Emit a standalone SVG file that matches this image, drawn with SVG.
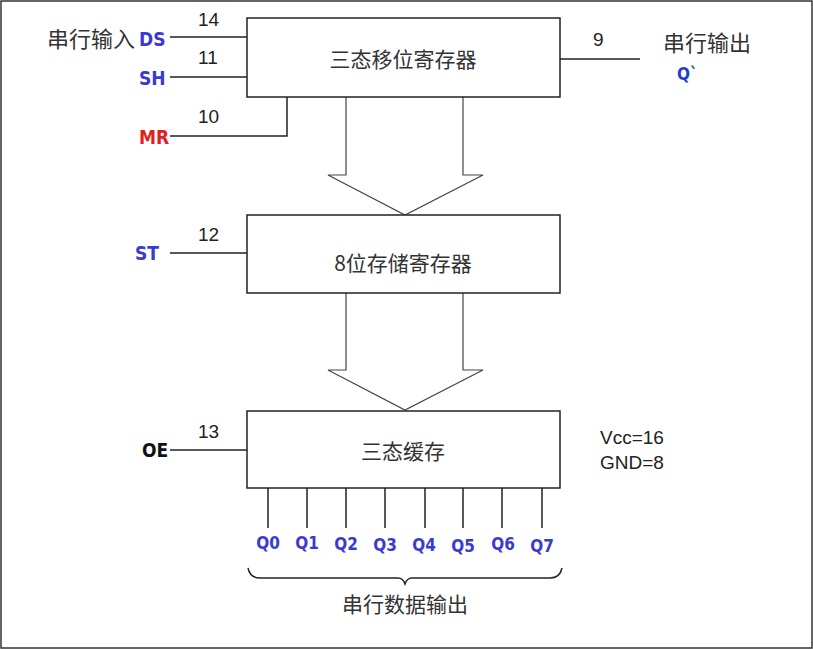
<svg xmlns="http://www.w3.org/2000/svg" width="813" height="649" viewBox="0 0 813 649">
<style>
.b{fill:#fff;stroke:#222;stroke-width:1.5}
.l{stroke:#222;stroke-width:1.5;fill:none}
.a{fill:#fff;stroke:#444;stroke-width:1.2}
.n{font-family:"Liberation Sans",Arial,sans-serif;font-size:19px;fill:#222}
.c{font-family:"Noto Sans CJK SC",sans-serif;font-size:21px;fill:#333}
.m{font-family:"DejaVu Sans Condensed","DejaVu Sans",sans-serif;font-weight:bold;font-size:19px;fill:#3a3ad0}
</style>
<rect width="813" height="649" fill="#fff"/>
<rect x="1" y="1" width="811" height="647" fill="none" stroke="#333" stroke-width="1.5"/>
<g id="connectors">
<path class="l" d="M170 37H247M170 77H247M170 136H287V97M170 253H247M170 450H247M560 59H640"/>
<path class="l" d="M268 488V528M307 488V528M346 488V528M385 488V528M425 488V528M463 488V528M502 488V528M542 488V528"/>
<path class="l" stroke-width="1.2" d="M248 568Q250 578 260 578H398Q403 578 405 584Q407 578 412 578H550Q560 578 562 568"/>
<path class="a" d="M346 97V175H328L405 215L483 175H463V97"/>
<path class="a" d="M346 293V370H328L405 410L483 370H463V293"/>
</g>
<g id="shift"><rect class="b" x="247" y="18" width="313" height="79"/><text class="c" x="403" y="67" text-anchor="middle">三态移位寄存器</text></g>
<g id="storage"><rect class="b" x="247" y="215" width="313" height="78"/><text class="c" x="403" y="271" text-anchor="middle">8位存储寄存器</text></g>
<g id="buffer"><rect class="b" x="247" y="411" width="313" height="77"/><text class="c" x="403" y="459" text-anchor="middle">三态缓存</text></g>
<g id="labels">
<text class="c" x="47" y="47" style="font-size:22px">串行输入</text><text class="m" x="139" y="46">DS</text>
<text class="m" x="139" y="85">SH</text>
<text class="m" x="139" y="144" style="fill:#e02020">MR</text>
<text class="m" x="135" y="260">ST</text>
<text class="m" x="142" y="457" style="fill:#111">OE</text>
<text class="n" x="198" y="26">14</text><text class="n" x="198" y="64">11</text><text class="n" x="198" y="123">10</text>
<text class="n" x="198" y="241">12</text><text class="n" x="198" y="438">13</text><text class="n" x="593" y="46">9</text>
<text class="c" x="663" y="51" style="font-size:22px">串行输出</text><text class="m" x="677" y="80" style="fill:#1a3fd0;font-size:17px">Q`</text>
<text class="n" x="600" y="444">Vcc=16</text><text class="n" x="600" y="469">GND=8</text>
<g class="m" style="font-size:17px" text-anchor="middle">
<text x="268" y="549">Q0</text><text x="307" y="549">Q1</text><text x="346" y="550">Q2</text><text x="385" y="551">Q3</text><text x="424" y="551">Q4</text><text x="463" y="552">Q5</text><text x="503" y="550">Q6</text><text x="542" y="552">Q7</text></g>
<text class="c" x="405" y="612" text-anchor="middle">串行数据输出</text>
</g>
</svg>
